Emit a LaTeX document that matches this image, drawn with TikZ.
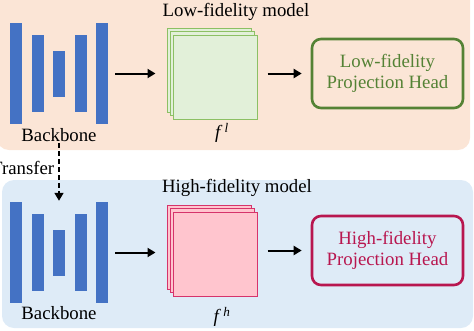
\documentclass[tikz,border=0pt]{standalone}
\usepackage{fontspec}
\setmainfont{Liberation Serif}
\usetikzlibrary{arrows.meta}

\definecolor{lowbg}{HTML}{FBE5D6}
\definecolor{highbg}{HTML}{DEEBF7}
\definecolor{bbblue}{HTML}{4472C4}
\definecolor{lowgreen}{HTML}{548235}
\definecolor{lowfill}{HTML}{E2F0D9}
\definecolor{lowedge}{HTML}{8CC064}
\definecolor{highpink}{HTML}{B8164F}
\definecolor{highfill}{HTML}{FFC5CE}
\definecolor{highedge}{HTML}{D6336B}

\tikzset{
  bar/.style={fill=bbblue},
  bbbox/.style={inner sep=0pt, minimum width=98pt, minimum height=101pt},
  feat/.style={draw, line width=1pt, inner sep=0pt, minimum width=84pt, minimum height=84pt},
  head/.style={draw, rounded corners=9pt, line width=2.6pt, minimum width=151pt,
    minimum height=69pt, align=center},
  arr/.style={-{Triangle[length=8pt,width=9pt]}, line width=2pt},
}

\begin{document}
\begin{tikzpicture}[x=1pt, y=-1pt, font=\fontsize{18.8}{21}\selectfont]
\useasboundingbox (0,0) rectangle (474,330);

%fonds
\fill[lowbg, rounded corners=12pt] (-3,-12) rectangle (470,150);
\fill[highbg, rounded corners=12pt] (2,180) rectangle (473,328);

%modele basse fidelite
\node[bbbox] (lowbb) at (59,73.5) {};
\foreach \x/\h in {16/50.5, 37.5/38.5, 59/23, 80.5/38.5, 102/50.5}
  \fill[bar] (\x-6,73.5-\h) rectangle (\x+6,73.5+\h);
\node (lowbbtext) at (59,135) {Backbone};

\node[feat, draw=lowedge, fill=lowfill] at (209,70) {};
\node[feat, draw=lowedge, fill=lowfill] at (212,73.5) {};
\node[feat, draw=lowedge, fill=lowfill] (lowfeat) at (215,77) {};
\node (lowtitle) at (236,12) {Low-fidelity model};
\node (lowf) at (222,133) {\textit{f}\textsuperscript{\,\textit{l}}};

\node[head, draw=lowgreen, text=lowgreen] (lowhead) at (387.5,73.5) {Low-fidelity\\Projection Head};

\draw[arr, shorten <=7pt, shorten >=17pt] (lowbb.east) -- (lowfeat.west |- lowbb.east);
\draw[arr, shorten <=10pt, shorten >=9pt] (lowfeat.east |- lowhead.west) -- (lowhead.west);

%modele haute fidelite
\node[bbbox] (highbb) at (59,252.5) {};
\foreach \x/\h in {16/50.5, 37.5/38.5, 59/23, 80.5/38.5, 102/50.5}
  \fill[bar] (\x-6,252.5-\h) rectangle (\x+6,252.5+\h);
\node (highbbtext) at (59,313) {Backbone};

\node[feat, draw=highedge, fill=highfill] at (209,247) {};
\node[feat, draw=highedge, fill=highfill] at (212,250.5) {};
\node[feat, draw=highedge, fill=highfill] (highfeat) at (215,254) {};
\node (hightitle) at (237,188) {High-fidelity model};
\node (highf) at (222,317) {\textit{f}\textsuperscript{\,\textit{h}}};

\node[head, draw=highpink, text=highpink] (highhead) at (387.5,250.5) {High-fidelity\\Projection Head};

\draw[arr, shorten <=7pt, shorten >=17pt] (highbb.east) -- (highfeat.west |- highbb.east);
\draw[arr, shorten <=10pt, shorten >=9pt] (highfeat.east |- highhead.west) -- (highhead.west);

%transfert
\draw[arr, line width=1.6pt, dash pattern=on 5pt off 3pt, shorten <=-2pt, shorten >=1pt]
  (lowbbtext.south) -- (highbb.north) node[pos=0.4, left, inner sep=4pt] {Transfer};

\end{tikzpicture}
\end{document}
